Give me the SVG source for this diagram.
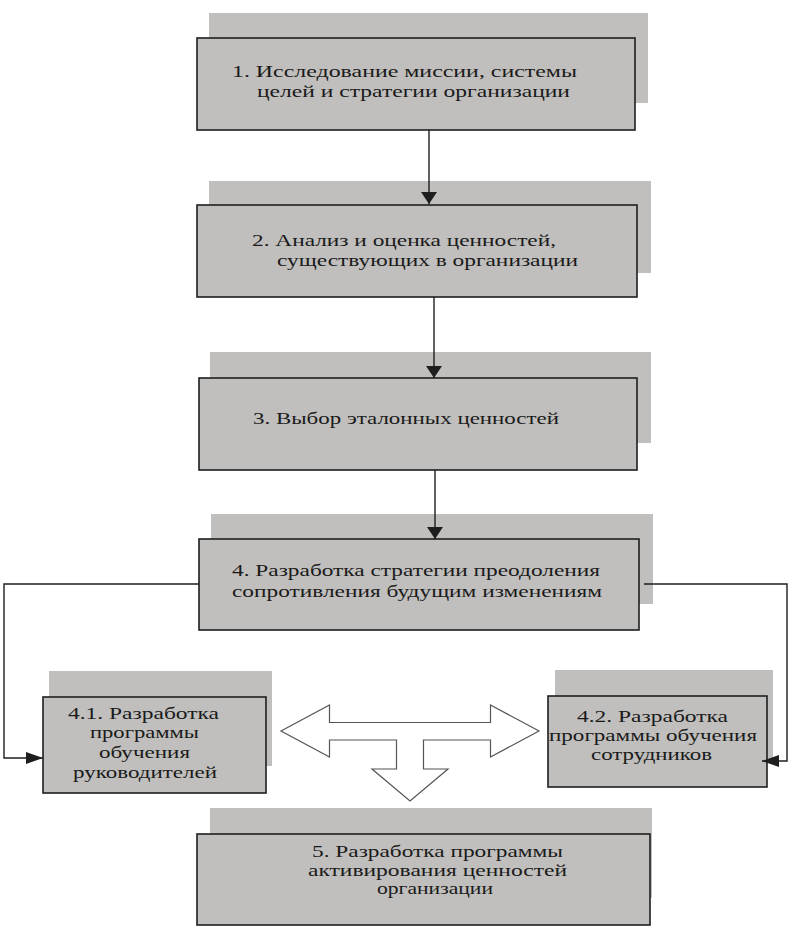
<svg xmlns="http://www.w3.org/2000/svg" width="794" height="931" viewBox="0 0 794 931">
<defs>
<style>
.sh{fill:#c0bfbd;stroke:none}
.bx{fill:#c0bfbd;stroke:#1e1e1e;stroke-width:1.6}
.t{font-family:"Liberation Serif","Times New Roman",serif;font-size:17px;fill:#1a1a1a}
.c{fill:none;stroke:#1e1e1e;stroke-width:1.4}
.big{fill:#ffffff;stroke:#555555;stroke-width:1.2}
</style>
<marker id="ah" viewBox="0 0 12 16" refX="12" refY="8" markerWidth="12" markerHeight="16" markerUnits="userSpaceOnUse" orient="auto">
<path d="M0,0 L12,8 L0,16 Z" fill="#1e1e1e"/>
</marker>
<marker id="ahs" viewBox="0 0 17 12" refX="17" refY="6" markerWidth="17" markerHeight="12" markerUnits="userSpaceOnUse" orient="auto">
<path d="M0,0 L17,6 L0,12 Z" fill="#1e1e1e"/>
</marker>
</defs>
<rect width="794" height="931" fill="#ffffff"/>

<g id="node1">
<rect class="sh" x="209" y="13" width="439" height="90"/>
<rect class="bx" x="197" y="38" width="438" height="92"/>
<text class="t" x="232" y="77" textLength="345" lengthAdjust="spacingAndGlyphs">1. Исследование миссии, системы</text>
<text class="t" x="257" y="97" textLength="313" lengthAdjust="spacingAndGlyphs">целей и стратегии организации</text>
</g>

<g id="node2">
<rect class="sh" x="209" y="181" width="442" height="92"/>
<rect class="bx" x="197" y="205" width="440" height="92"/>
<text class="t" x="252" y="246" textLength="304" lengthAdjust="spacingAndGlyphs">2. Анализ и оценка ценностей,</text>
<text class="t" x="277" y="266" textLength="301" lengthAdjust="spacingAndGlyphs">существующих в организации</text>
</g>

<g id="node3">
<rect class="sh" x="210" y="352" width="441" height="91"/>
<rect class="bx" x="199" y="378" width="438" height="92"/>
<text class="t" x="253" y="424" textLength="306" lengthAdjust="spacingAndGlyphs">3. Выбор эталонных ценностей</text>
</g>

<g id="node4">
<rect class="sh" x="211" y="514" width="442" height="90"/>
<rect class="bx" x="199" y="539" width="440" height="91"/>
<text class="t" x="232" y="576" textLength="368" lengthAdjust="spacingAndGlyphs">4. Разработка стратегии преодоления</text>
<text class="t" x="232" y="597" textLength="370" lengthAdjust="spacingAndGlyphs">сопротивления будущим изменениям</text>
</g>

<g id="node41">
<rect class="sh" x="49" y="671" width="223" height="95"/>
<rect class="bx" x="43" y="697" width="223" height="96"/>
<text class="t" x="68" y="719" textLength="151" lengthAdjust="spacingAndGlyphs">4.1. Разработка</text>
<text class="t" x="90" y="738" textLength="109" lengthAdjust="spacingAndGlyphs">программы</text>
<text class="t" x="99" y="758" textLength="91" lengthAdjust="spacingAndGlyphs">обучения</text>
<text class="t" x="73" y="778" textLength="144" lengthAdjust="spacingAndGlyphs">руководителей</text>
</g>

<g id="node42">
<rect class="sh" x="555" y="670" width="218" height="92"/>
<rect class="bx" x="548" y="696" width="219" height="91"/>
<text class="t" x="577" y="722" textLength="151" lengthAdjust="spacingAndGlyphs">4.2. Разработка</text>
<text class="t" x="549" y="741" textLength="208" lengthAdjust="spacingAndGlyphs">программы обучения</text>
<text class="t" x="591" y="760" textLength="121" lengthAdjust="spacingAndGlyphs">сотрудников</text>
</g>

<g id="node5">
<rect class="sh" x="210" y="808" width="442" height="90"/>
<rect class="bx" x="197" y="834" width="453" height="91"/>
<text class="t" x="312" y="857" textLength="251" lengthAdjust="spacingAndGlyphs">5. Разработка программы</text>
<text class="t" x="308" y="876" textLength="259" lengthAdjust="spacingAndGlyphs">активирования ценностей</text>
<text class="t" x="377" y="894" textLength="116" lengthAdjust="spacingAndGlyphs">организации</text>
</g>

<g id="connectors">
<path class="c" d="M429,130 L429,204" marker-end="url(#ah)"/>
<path class="c" d="M434,297 L434,378" marker-end="url(#ah)"/>
<path class="c" d="M435,470 L435,539" marker-end="url(#ah)"/>
<path class="c" d="M199,584 L4,584 L4,758 L43,758" marker-end="url(#ahs)"/>
<path class="c" d="M644,584 L787,584 L787,761 L762,761" marker-end="url(#ahs)"/>
<path class="big" d="M281,731 L329.5,705 L329.5,722.5 L490.5,722.5 L490.5,705 L539,731 L490.5,757 L490.5,740 L423.5,740 L423.5,769 L448,769 L410,801 L372,769 L396.5,769 L396.5,740 L329.5,740 L329.5,757 Z"/>
</g>
</svg>
